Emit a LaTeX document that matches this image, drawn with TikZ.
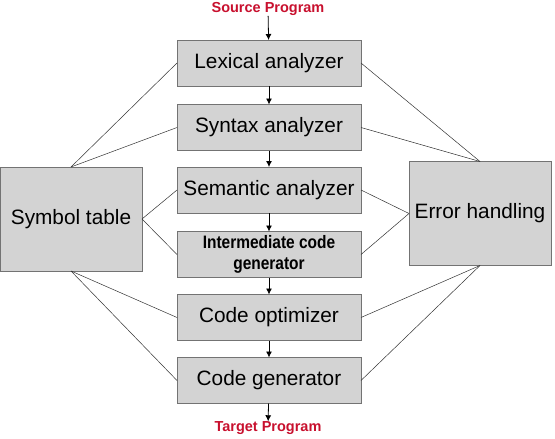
\documentclass[tikz,border=0pt]{standalone}
\usepackage{fontspec}
\setmainfont{Liberation Sans}
\newfontfamily\narrowfont[FakeStretch=0.86]{Liberation Sans}
\usetikzlibrary{arrows.meta}

\definecolor{progred}{RGB}{200,16,46}
\definecolor{boxgray}{RGB}{211,211,211}

\begin{document}
\begin{tikzpicture}[x=1pt,y=-1pt,
    phase/.style={draw=black!55,fill=boxgray,line width=0.8pt,inner sep=0pt,outer sep=0pt,
      minimum width=184pt,minimum height=46pt,font=\fontsize{20.8}{24}\selectfont},
    side/.style={phase,minimum width=142pt,minimum height=104pt},
    flow/.style={-{Latex[length=6pt,width=6pt]},line width=0.8pt},
    link/.style={line width=0.5pt,black!80},
    prog/.style={text=progred,inner sep=0pt,font=\bfseries\fontsize{14.5}{16}\selectfont}]

       \useasboundingbox (0,0) rectangle (555,439);

       \node[prog] (src) at (268,9) {Source Program};
       \node[prog] (tgt) at (268,428) {Target Program};

       \node[phase] (lex) at (269,63) {Lexical analyzer};
       \node[phase] (syn) at (269,127.5) {Syntax analyzer};
       \node[phase] (sem) at (269,190) {Semantic analyzer};
       \node[phase, align=center, font=\narrowfont\bfseries\fontsize{18}{21}\selectfont] (icg) at (269,254.5) {Intermediate code\\generator};
       \node[phase] (opt) at (269,317.5) {Code optimizer};
       \node[phase] (gen) at (269,380.5) {Code generator};

       \node[side] (sym) at (71,219) {Symbol table};
       \node[side] (err) at (480,213.5) {Error handling};

       \draw[flow] (src) -- (lex);
       \foreach \a/\b in {lex/syn, syn/sem, sem/icg, icg/opt, opt/gen}
           \draw[flow] (\a) -- (\b);
       \draw[flow] (gen) -- (tgt);

       \foreach \s/\p in {north/lex, north/syn, east/sem, east/icg, south/opt, south/gen} {
           \draw[link] (sym.\s) -- (\p.west);
       }
       \foreach \s/\p in {north/lex, north/syn, west/sem, west/icg, south/opt, south/gen} {
           \draw[link] (err.\s) -- (\p.east);
       }
     \end{tikzpicture}
\end{document}
